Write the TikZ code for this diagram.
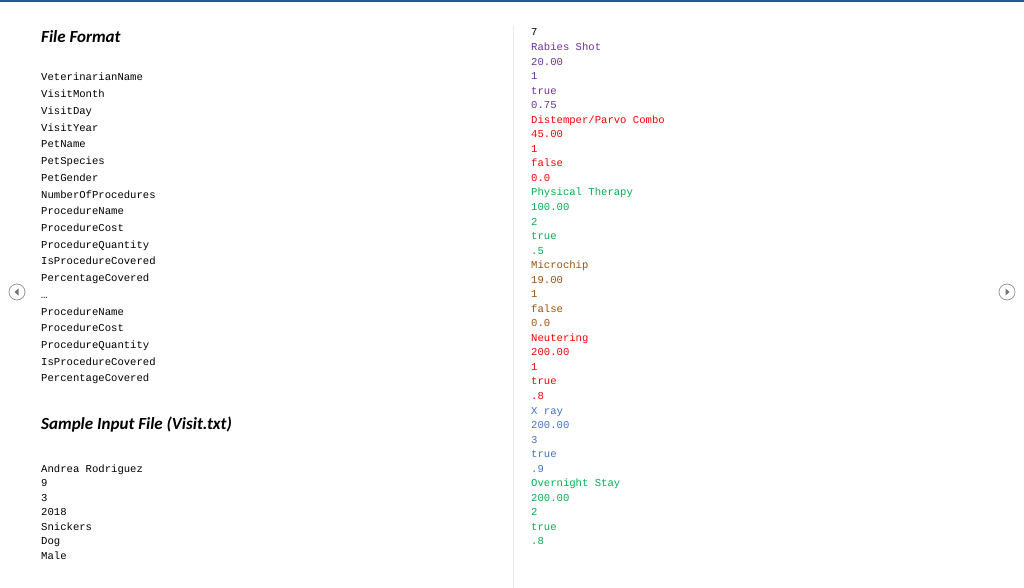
\documentclass[tikz,border=0pt]{standalone}
\usepackage{fontspec}
\setmonofont{Liberation Mono}
\newfontfamily\headfont{Carlito}
\definecolor{cpur}{RGB}{112,48,160}
\definecolor{cred}{RGB}{255,0,0}
\definecolor{cgrn}{RGB}{0,176,80}
\definecolor{cbrn}{RGB}{160,80,10}
\definecolor{cblu}{RGB}{68,114,196}
\definecolor{topbar}{RGB}{47,84,150}
\begin{document}
\begin{tikzpicture}[x=1pt,y=-1pt,
  mono/.style={anchor=base west,inner sep=0pt,font=\fontsize{10.6}{12}\ttfamily},
  head/.style={anchor=base west,inner sep=0pt,font=\fontsize{17}{20}\headfont\bfseries\itshape},
  navc/.style={circle,draw=black!40,line width=0.8pt,minimum size=16pt,inner sep=0pt}]
\useasboundingbox (0,0) rectangle (1024,588);
\fill[white] (0,0) rectangle (1024,588);
\fill[topbar] (0,0) rectangle (1024,2);
\draw[black!8] (513,25) -- (513,588);
\node[head] (h1) at (41,43) {File Format};
\node[head] (h2) at (41,429) {Sample Input File (Visit.txt)};
\foreach \t [count=\i] in {VeterinarianName,VisitMonth,VisitDay,VisitYear,PetName,PetSpecies,PetGender,NumberOfProcedures,ProcedureName,ProcedureCost,ProcedureQuantity,IsProcedureCovered,PercentageCovered,{…},ProcedureName,ProcedureCost,ProcedureQuantity,IsProcedureCovered,PercentageCovered}
  \node[mono] (f\i) at (41,{81+(\i-1)*16.72}) {\t};
\foreach \t [count=\i] in {Andrea Rodriguez,9,3,2018,Snickers,Dog,Male}
  \node[mono] (s\i) at (41,{472+(\i-1)*14.5}) {\t};
\foreach \t/\c [count=\i] in {7/black,Rabies Shot/cpur,20.00/cpur,1/cpur,true/cpur,0.75/cpur,
  Distemper\slash Parvo Combo/cred,45.00/cred,1/cred,false/cred,0.0/cred,
  Physical Therapy/cgrn,100.00/cgrn,2/cgrn,true/cgrn,.5/cgrn,
  Microchip/cbrn,19.00/cbrn,1/cbrn,false/cbrn,0.0/cbrn,
  Neutering/cred,200.00/cred,1/cred,true/cred,.8/cred,
  X ray/cblu,200.00/cblu,3/cblu,true/cblu,.9/cblu,
  Overnight Stay/cgrn,200.00/cgrn,2/cgrn,true/cgrn,.8/cgrn}
  \node[mono,text=\c] (r\i) at (531,{36+(\i-1)*14.54}) {\t};
\node[navc] (pl) at (17,292) {};
\node[navc] (pr) at (1007,292) {};
\fill[black!55] ([xshift=-2.5pt]pl.center) -- ++(4,-3.5) -- ++(0,7) -- cycle;
\fill[black!55] ([xshift=2.5pt]pr.center) -- ++(-4,-3.5) -- ++(0,7) -- cycle;
\end{tikzpicture}
\end{document}
